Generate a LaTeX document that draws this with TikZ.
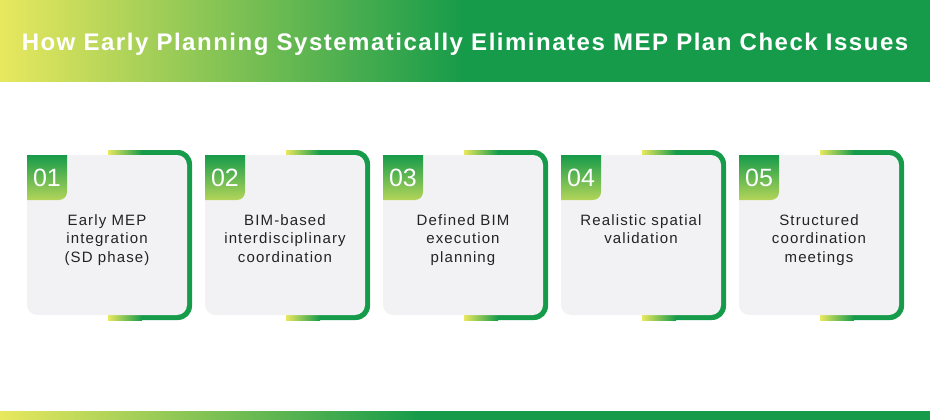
\documentclass[tikz,border=0pt]{standalone}
\usepackage{fontspec}
\setmainfont{Liberation Sans}
\newfontfamily\titlefont[LetterSpace=6.3]{Liberation Sans}
\newfontfamily\cardfont[LetterSpace=7.5]{Liberation Sans}
\usetikzlibrary{positioning}
\definecolor{mepgreen}{HTML}{169B4A}
\definecolor{mepyellow}{HTML}{E8E85E}
\definecolor{cardgray}{HTML}{F2F2F4}
\definecolor{bodytext}{HTML}{232323}
\tikzset{
  cardbox/.style={fill=cardgray, rounded corners=10pt},
  bracketfade/.style={left color=mepyellow, right color=mepgreen},
  badgefill/.style={top color=mepgreen, bottom color=mepyellow!75!mepgreen},
  numtext/.style={text=white, font=\fontsize{25}{25}\selectfont, inner sep=0pt},
  cardtext/.style={anchor=north, align=center, inner sep=0pt, text=bodytext, font=\cardfont\fontsize{15}{18.5}\selectfont}
}
% una tarjeta: #1 numero, #2 borde izquierdo, #3 texto
\newcommand{\mepcard}[3]{
    % marco verde
    \fill[mepgreen] (#2+81,150) -- (#2+151,150) arc[start angle=-90, end angle=0, radius=14]
        -- (#2+165,306) arc[start angle=0, end angle=90, radius=14] -- (#2+81,320) -- cycle;
    \shade[bracketfade] (#2+81,150) rectangle (#2+115,155.2);
    \shade[bracketfade] (#2+81,314.8) rectangle (#2+115,320);
    % fondo gris
    \fill[cardbox] (#2,155) rectangle (#2+160,315);
    % numero
    \shade[badgefill] (#2,155) -- (#2+40,155) -- (#2+40,192) arc[start angle=0, end angle=90, radius=8] -- (#2,200) -- cycle;
    \node[numtext] (num#1) at (#2+20,178) {#1};
    \node[cardtext] (txt#1) at (#2+80,214) {#3};
}

\begin{document}
\begin{tikzpicture}[x=1pt, y=-1pt]
    \useasboundingbox (0,0) rectangle (930,420);

    % Cabecera con degradado
    \shade[left color=mepyellow, right color=mepgreen] (0,0) rectangle (465,82);
    \fill[mepgreen] (464,0) rectangle (930,82);
    \node[text=white, font=\titlefont\bfseries\fontsize{24}{24}\selectfont] (title) at (465,44.5)
        {How Early Planning Systematically Eliminates MEP Plan Check Issues};

    % Barra inferior
    \shade[left color=mepyellow, right color=mepgreen] (0,411) rectangle (420,420);
    \fill[mepgreen] (419,411) rectangle (930,420);

    % Tarjetas
    \mepcard{01}{27}{Early MEP\\integration\\(SD phase)}
    \mepcard{02}{205}{BIM-based\\interdisciplinary\\coordination}
    \mepcard{03}{383}{Defined BIM\\execution\\planning}
    \mepcard{04}{561}{Realistic spatial\\validation}
    \mepcard{05}{739}{Structured\\coordination\\meetings}

\end{tikzpicture}
\end{document}
